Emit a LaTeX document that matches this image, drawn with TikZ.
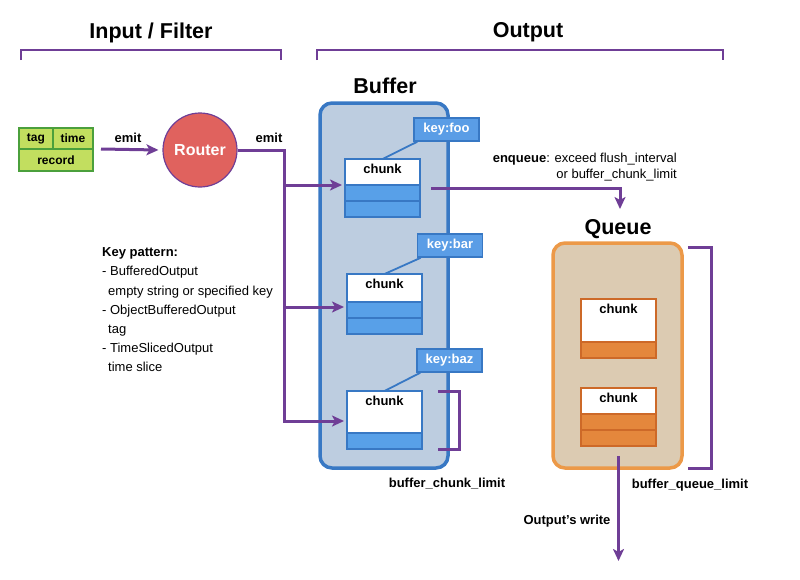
\documentclass[tikz,border=0pt]{standalone}
\usepackage{fontspec}
\setmainfont{Liberation Sans}
\usepackage{tikz}
\usetikzlibrary{positioning,arrows.meta}
\tikzset{>={Stealth[length=12pt,width=11pt,inset=3pt]}}

\definecolor{fpurple}{RGB}{111,62,150}
\definecolor{buffill}{RGB}{189,205,224}
\definecolor{bufline}{RGB}{56,120,196}
\definecolor{keyfill}{RGB}{90,157,230}
\definecolor{rowfill}{RGB}{88,160,232}
\definecolor{quefill}{RGB}{220,203,178}
\definecolor{queline}{RGB}{236,153,72}
\definecolor{orowfill}{RGB}{228,135,60}
\definecolor{orowline}{RGB}{205,105,40}
\definecolor{recfill}{RGB}{194,222,95}
\definecolor{recline}{RGB}{75,160,60}
\definecolor{routfill}{RGB}{224,98,94}

\begin{document}
\begin{tikzpicture}[x=1pt,y=-1pt,
  flow/.style={draw=fpurple, line width=3pt},
  head/.style={font=\bfseries\fontsize{21.5}{24}\selectfont, anchor=base},
  lbl/.style={font=\bfseries\fontsize{13}{15}\selectfont, anchor=base},
  chunkbox/.style={draw=#1, fill=white, line width=1.8pt, minimum width=75pt, inner xsep=0pt,
    inner ysep=5pt, text height=9pt, anchor=north west, outer sep=0pt,
    font=\bfseries\fontsize{13}{15}\selectfont},
  brow/.style={draw=bufline, fill=rowfill, line width=1.8pt, minimum width=75pt, minimum height=16pt,
    inner sep=0pt, outer sep=0pt},
  orow/.style={draw=orowline, fill=orowfill, line width=1.8pt, minimum width=75pt, minimum height=16pt,
    inner sep=0pt, outer sep=0pt},
  keybox/.style={draw=bufline, fill=keyfill, line width=1.5pt, minimum width=65pt, minimum height=23pt,
    inner sep=0pt, text=white, font=\bfseries\fontsize{13}{15}\selectfont},
  reccell/.style={draw=recline, fill=recfill, line width=1.8pt, minimum height=21pt, inner sep=0pt,
    outer sep=0pt, anchor=north west, font=\bfseries\fontsize{12}{14}\selectfont},
  keyline/.style={draw=bufline, line width=1.8pt}
]
\useasboundingbox (0,0) rectangle (800,579);

% titles and brackets
\node[head] (tin) at (151,38) {Input / Filter};
\node[head] (tout) at (528,37) {Output};
\draw[flow, line width=2.6pt] (21,60) -- (21,50) -- (281,50) -- (281,60);
\draw[flow, line width=2.6pt] (317,60) -- (317,50) -- (723,50) -- (723,60);

% record
\node[reccell, minimum width=34pt] (tag) at (19,128) {tag};
\node[reccell, minimum width=40pt, right=0pt of tag] (time) {time};
\node[reccell, minimum width=74pt, minimum height=22pt] (rec) at (19,149) {record};

\node[circle, draw=fpurple, fill=routfill, line width=1.2pt, minimum size=74pt, text=white,
  font=\bfseries\fontsize{16}{18}\selectfont] (router) at (200,150) {Router};

\node[lbl] (emit1) at (128,142) {emit};
\node[lbl] (emit2) at (269,142) {emit};

% buffer
\node[head] (tbuf) at (385,93) {Buffer};
\node[draw=bufline, fill=buffill, line width=3.5pt, rounded corners=12pt, minimum width=128pt,
  minimum height=365pt] (buf) at (384,285.5) {};

\node[chunkbox=bufline, text depth=7pt] (c1) at (345,159) {chunk};
\node[brow, below=0pt of c1] (c1a) {};
\node[brow, below=0pt of c1a] (c1b) {};
\node[chunkbox=bufline, text depth=9pt] (c2) at (347,274) {chunk};
\node[brow, below=0pt of c2] (c2a) {};
\node[brow, below=0pt of c2a] (c2b) {};
\node[chunkbox=bufline, text depth=23pt] (c3) at (347,391) {chunk};
\node[brow, below=0pt of c3] (c3a) {};

\node[keybox] (kfoo) at (446.5,129.5) {key:foo};
\node[keybox] (kbar) at (450,245.5) {key:bar};
\node[keybox] (kbaz) at (449.5,360.5) {key:baz};
\draw[keyline] ([xshift=4pt]kfoo.south west) -- (c1.north);
\draw[keyline] ([xshift=4pt]kbar.south west) -- (c2.north);
\draw[keyline] ([xshift=4pt]kbaz.south west) -- (c3.north);

% queue
\node[head] (tque) at (618,234) {Queue};
\node[draw=queline, fill=quefill, line width=3.5pt, rounded corners=12pt, minimum width=129pt,
  minimum height=225pt] (que) at (617.5,355.5) {};
\node[chunkbox=orowline, text depth=24pt] (q1) at (581,299) {chunk};
\node[orow, below=0pt of q1] (q1a) {};
\node[chunkbox=orowline, text depth=7pt] (q2) at (581,388) {chunk};
\node[orow, below=0pt of q2] (q2a) {};
\node[orow, below=0pt of q2a] (q2b) {};

% flows
\coordinate (jtop) at (284,150);
\coordinate (jbot) at (284,421);
\coordinate (in1) at ([xshift=-3pt]c1.south west);
\coordinate (in2) at ([xshift=-3pt,yshift=3pt]c2a.west);
\coordinate (in3) at ([xshift=-3pt,yshift=-9pt]c3.west);
\coordinate (enq) at (620,209);
\coordinate (wend) at (618.5,561);

\draw[flow,->] ([xshift=8pt]time.south east) -- ([xshift=-4pt]router.west);
\draw[flow,->] (router.east) -- (jtop) -- (jbot) -- (in3);
\foreach \c in {in1,in2}
  \draw[flow,->] (jtop |- \c) -- (\c);
\draw[flow,->] ([xshift=11pt,yshift=-3pt]c1.south east) -| (enq);
\draw[flow,->] ([yshift=-10pt]q2b.south) -- (wend);

% limits
\draw[flow] ([xshift=16pt]c3.north east) -- ++(21,0) |- ([xshift=16pt]c3a.south east);
\draw[flow] ([xshift=4pt,yshift=-6pt]que.north east) -- ++(24,0) |- ([xshift=4pt,yshift=1pt]que.south east);

\node[lbl] (bcl) at (447,487) {buffer\_chunk\_limit};
\node[lbl] (bql) at (690,488) {buffer\_queue\_limit};
\node[lbl] (owr) at (567,524) {Output's write};

\node[anchor=north east, inner sep=0pt, align=right, font=\fontsize{13}{16}\selectfont]
  (enqt) at (677,153) {\textbf{enqueue}: exceed flush\_interval\\or buffer\_chunk\_limit};

\node[anchor=north west, inner sep=0pt, align=left, font=\fontsize{13}{19.2}\selectfont]
  (keyp) at (102,247.6) {\textbf{Key pattern:}\\- BufferedOutput\\\hspace*{6pt}empty string or specified key\\
  - ObjectBufferedOutput\\\hspace*{6pt}tag\\- TimeSlicedOutput\\\hspace*{6pt}time slice};
\end{tikzpicture}
\end{document}
